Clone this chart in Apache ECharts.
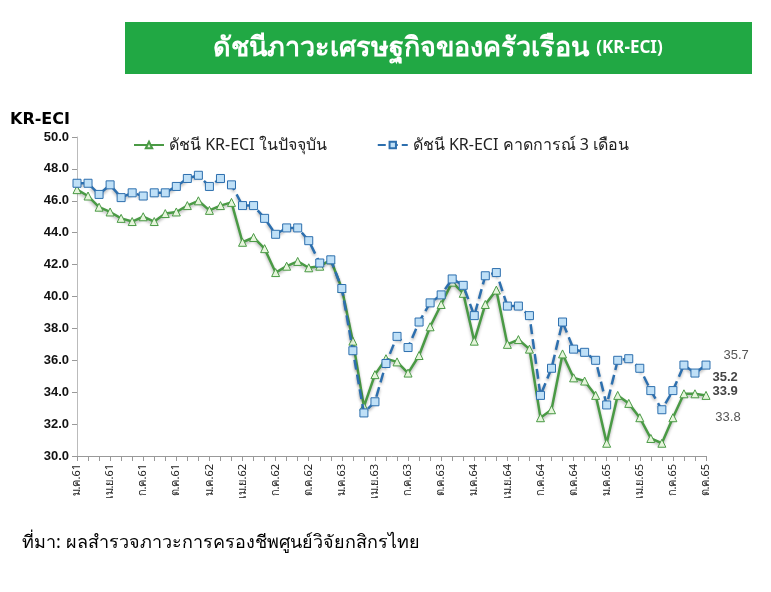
<!DOCTYPE html>
<html><head><meta charset="utf-8">
<script src="https://cdn.jsdelivr.net/npm/echarts@6/dist/echarts.min.js"></script>
<style>html,body{margin:0;padding:0;background:#fff}#c{width:771px;height:592px}</style>
</head><body><div id="c"></div>
<script>
const months = ['ม.ค.','ก.พ.','มี.ค.','เม.ย.','พ.ค.','มิ.ย.','ก.ค.','ส.ค.','ก.ย.','ต.ค.','พ.ย.','ธ.ค.'];
const years = ['61','62','63','64','65'];
const categories = [];
years.forEach(y => months.forEach(m => categories.push(m + y)));
categories.length = 58;
const current = [46.7,46.3,45.6,45.3,44.9,44.7,45.0,44.7,45.2,45.3,45.7,46.0,
  45.4,45.7,45.9,43.4,43.7,43.0,41.5,41.9,42.2,41.8,41.9,42.3,
  40.5,37.2,33.1,35.1,36.1,35.9,35.2,36.3,38.1,39.5,40.9,40.2,
  37.2,39.5,40.4,37.0,37.3,36.7,32.4,32.9,36.4,34.9,34.7,33.8,
  30.8,33.8,33.3,32.4,31.1,30.8,32.4,33.9,33.9,33.8];
const expected = [47.1,47.1,46.4,47.0,46.2,46.5,46.3,46.5,46.5,46.9,47.4,47.6,
  46.9,47.4,47.0,45.7,45.7,44.9,43.9,44.3,44.3,43.5,42.1,42.3,
  40.5,36.6,32.7,33.4,35.8,37.5,36.8,38.4,39.6,40.1,41.1,40.7,
  38.8,41.3,41.5,39.4,39.4,38.8,33.8,35.5,38.4,36.7,36.5,36.0,
  33.2,36.0,36.1,35.5,34.1,32.9,34.1,35.7,35.2,35.7];
const yTicks = {min:30, max:50, interval:2};
const titleText = 'ดัชนีภาวะเศรษฐกิจของครัวเรือน';
const sourceText = 'ที่มา: ผลสำรวจภาวะการครองชีพศูนย์วิจัยกสิกรไทย';

function withEndLabels(arr, specs){
  return arr.map((v,i)=>{
    const s = specs[arr.length-1-i];
    if(!s) return v;
    return {value:v, label:Object.assign({show:true, formatter:v.toFixed(1), color:'#333', fontSize:13, fontFamily:'Liberation Sans'}, s)};
  });
}
const greenData = withEndLabels(current, {
  0:{position:'bottom', offset:[22,6], color:'#555'},
  1:{position:'right', offset:[8,-2], fontWeight:'bold', color:'#444'}
});
const blueData = withEndLabels(expected, {
  0:{position:'right', offset:[8,-10], color:'#555'},
  1:{position:'right', offset:[8,4], fontWeight:'bold', color:'#444'}
});

const chart = echarts.init(document.getElementById('c'));
chart.setOption({
  animation:false,
  graphic:[
    {type:'rect', shape:{x:125,y:22,width:627,height:52}, style:{fill:'#21a844'}},
    {type:'text', x:438, y:48, style:{text:titleText+' {s|(KR-ECI)}', align:'center', verticalAlign:'middle', rich:{s:{fontSize:17,fontWeight:'bold',fill:'#fff',fontFamily:'Noto Sans'}}, fill:'#fff', fontSize:27, fontWeight:'bold', fontFamily:'Noto Sans'}},
    {type:'text', left:10, top:112, style:{text:'KR-ECI', fontSize:16, fontWeight:'bold', fill:'#000', fontFamily:'DejaVu Sans'}},
    {type:'text', left:22, top:534, style:{text:sourceText, fontSize:18, fill:'#000', fontFamily:'Noto Sans'}}
  ],
  legend:{
    top:132, left:128, itemGap:50, itemWidth:30, itemHeight:8,
    textStyle:{fontSize:16, color:'#222', fontFamily:'Noto Sans'},
    data:[{name:'ดัชนี KR-ECI ในปัจจุบัน'},{name:'ดัชนี KR-ECI คาดการณ์ 3 เดือน'}]
  },
  grid:{left:77, right:65, top:137, bottom:136},
  xAxis:{
    type:'category', data:categories, boundaryGap:false,
    axisLine:{lineStyle:{color:'#999'}},
    axisTick:{show:true, interval:0, length:5, lineStyle:{color:'#999'}},
    axisLabel:{interval:2, rotate:90, fontSize:11, color:'#222', fontFamily:'Noto Sans'}
  },
  yAxis:{
    type:'value', min:yTicks.min, max:yTicks.max, interval:yTicks.interval,
    axisLine:{show:true, lineStyle:{color:'#bbb'}},
    axisTick:{show:true, lineStyle:{color:'#999'}},
    splitLine:{show:false},
    axisLabel:{formatter:v=>v.toFixed(1), fontWeight:'bold', fontSize:13, color:'#111', fontFamily:'Liberation Sans'}
  },
  series:[
    {name:'ดัชนี KR-ECI ในปัจจุบัน', type:'line', data:greenData, symbol:'triangle', symbolSize:8, showAllSymbol:true,
     lineStyle:{color:'#4a9a45', width:2.5, shadowColor:'rgba(0,0,0,0.3)', shadowBlur:3, shadowOffsetY:2},
     itemStyle:{color:'#e6f5dc', borderColor:'#4a9a45', borderWidth:1}, z:2},
    {name:'ดัชนี KR-ECI คาดการณ์ 3 เดือน', type:'line', data:blueData, symbol:'rect', symbolSize:8, showAllSymbol:true,
     lineStyle:{color:'#2d6fae', width:2.5, type:'dashed', shadowColor:'rgba(0,0,0,0.3)', shadowBlur:3, shadowOffsetY:2},
     itemStyle:{color:'#bfe0f7', borderColor:'#2d6fae', borderWidth:1}, z:3}
  ]
});
</script></body></html>
